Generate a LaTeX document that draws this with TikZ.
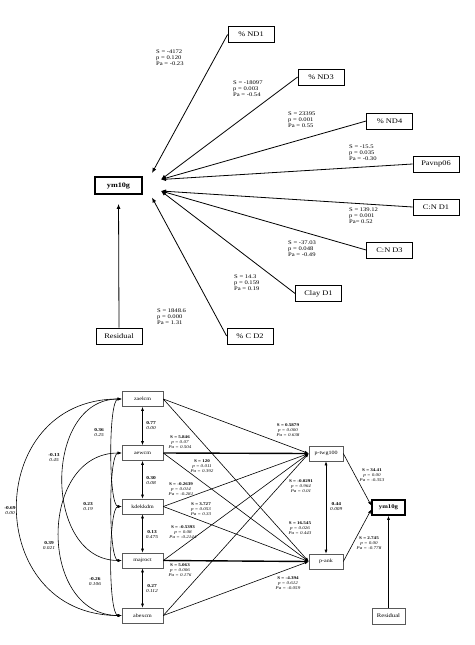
\documentclass[tikz,border=0pt]{standalone}
\usepackage{fontspec}
\setmainfont[FakeStretch=1.2]{Liberation Serif}
\usetikzlibrary{arrows.meta}

\newcommand{\pathtxt}[3]{\textbf{S = #1}\\\textit{p = #2}\\\textit{Pa = #3}}
\newcommand{\cortxt}[2]{\textbf{#1}\\\textit{#2}}

\tikzset{
  varbox/.style={draw, line width=0.8pt, minimum width=46pt, minimum height=16pt,
    inner sep=0pt, font=\fontsize{7}{7}\selectfont},
  respbox/.style={varbox, line width=1.8pt, minimum width=47pt, minimum height=17pt,
    font=\fontsize{6.8}{7}\selectfont\bfseries},
  stats/.style={align=left, anchor=north west, inner sep=0pt,
    font=\fontsize{5.5}{6}\selectfont},
  pathbox/.style={draw=black!65, line width=0.6pt, minimum width=41pt,
    minimum height=15pt, inner sep=0pt, font=\fontsize{5}{5}\selectfont},
  coef/.style={align=center, inner sep=0pt, font=\fontsize{4.5}{5}\selectfont},
  pstat/.style={align=center, inner sep=0pt, font=\fontsize{4.2}{5}\selectfont},
  toarr/.style={line width=0.8pt, -{Latex[length=5pt,width=4pt]}},
  patharr/.style={line width=0.6pt, -{Latex[length=4pt,width=3pt]}},
  corr/.style={line width=0.6pt, {Latex[length=4pt,width=3pt]}-{Latex[length=4pt,width=3pt]}}
}

\begin{document}
\begin{tikzpicture}[x=1pt,y=-1pt]
\useasboundingbox (0,0) rectangle (474,645);
% ---------- upper diagram: single predictors of ym10g ----------
\node[respbox] (ym) at (118.5,185.5) {ym10g};
\node[varbox] (nd1) at (251,34.5) {\% ND1};
\node[varbox] (nd3) at (321,77) {\% ND3};
\node[varbox] (nd4) at (389.5,121) {\% ND4};
\node[varbox] (pav) at (436,164) {Pavnp06};
\node[varbox] (cn1) at (436,207) {C:N D1};
\node[varbox] (cn3) at (389.5,250) {C:N D3};
\node[varbox] (clay) at (318.5,293.5) {Clay D1};
\node[varbox] (cd2) at (250,336) {\% C D2};
\node[varbox] (res) at (119,336) {Residual};
% arrow heads stop short of ym10g, four landing points
\coordinate (t1) at (152,173);
\coordinate (t2) at (161,179.5);
\coordinate (t3) at (161,191);
\coordinate (t4) at (152,197.5);
\draw[toarr] (nd1.west) -- (t1);
\foreach \v in {nd3,nd4,pav} \draw[toarr] (\v.west) -- (t2);
\foreach \v in {cn1,cn3,clay} \draw[toarr] (\v.west) -- (t3);
\draw[toarr] (cd2.west) -- (t4);
\draw[toarr, shorten >=9pt] (res.north) -- (ym.south);
% statistics
\node[stats] (s1) at (156,50) {S = -4172\\p = 0.120\\Pa = -0.23};
\node[stats] (s2) at (233,81) {S = -18097\\p = 0.003\\Pa = -0.54};
\node[stats] (s3) at (288,112) {S = 23395\\p = 0.001\\Pa = 0.55};
\node[stats] (s4) at (349,145) {S = -15.5\\p = 0.035\\Pa = -0.30};
\node[stats] (s5) at (349,208) {S = 139.12\\p = 0.001\\Pa= 0.52};
\node[stats] (s6) at (288,241) {S = -37.03\\p = 0.048\\Pa = -0.49};
\node[stats] (s7) at (234,275) {S = 14.3\\p = 0.159\\Pa = 0.19};
\node[stats] (s8) at (157,309) {S = 1848.6\\p = 0.000\\Pa = 1.31};

% ---------- lower diagram: path model ----------
\node[pathbox] (zae) at (142.5,399) {zaelcm};
\node[pathbox] (aew) at (142.5,453) {aewcm};
\node[pathbox] (kde) at (142.5,506.5) {kdekkdm};
\node[pathbox] (maj) at (142.5,560.5) {majroct};
\node[pathbox] (abe) at (142.5,615.5) {abexcm};
\node[pathbox, minimum width=34pt] (twg) at (326,453.5) {p-twg100};
\node[pathbox, minimum width=34pt] (ank) at (326,561.5) {p-ank};
\node[pathbox, draw=black, line width=1.5pt, minimum width=33pt,
  font=\fontsize{5.6}{6}\selectfont\bfseries] (ymb) at (388.5,507.5) {ym10g};
\node[pathbox, minimum width=33pt, minimum height=16pt,
  font=\fontsize{5.5}{6}\selectfont] (resb) at (388.5,616) {Residual};
% correlations between the predictors
\foreach \a/\b in {zae/aew,aew/kde,kde/maj,maj/abe}
  \draw[corr] (\a.south) -- (\b.north);
\draw[corr] (zae.west) to[out=180,in=180,looseness=1.65] (abe.west);
\draw[corr] (zae.west) to[out=180,in=180,looseness=1.25] (maj.west);
\draw[corr] (aew.west) to[out=180,in=180,looseness=1.32] (abe.west);
\draw[corr] (zae.west) to[out=180,in=180,looseness=0.32] (kde.west);
\draw[corr] (aew.west) to[out=180,in=180,looseness=0.32] (maj.west);
\draw[corr] (kde.west) to[out=180,in=180,looseness=0.32] (abe.west);
\node[coef] (c1) at (151,426) {\cortxt{0.77}{0.00}};
\node[coef] (c2) at (151,480.5) {\cortxt{0.30}{0.08}};
\node[coef] (c3) at (152,534.5) {\cortxt{0.13}{0.475}};
\node[coef] (c4) at (152,588.5) {\cortxt{0.27}{0.112}};
\node[coef] (c5) at (10,511) {\cortxt{-0.69}{0.00}};
\node[coef] (c6) at (54,458) {\cortxt{-0.13}{0.45}};
\node[coef] (c7) at (99,433) {\cortxt{0.36}{0.25}};
\node[coef] (c8) at (49,546) {\cortxt{0.39}{0.021}};
\node[coef] (c9) at (88,507) {\cortxt{0.23}{0.19}};
\node[coef] (c10) at (95,582) {\cortxt{-0.26}{0.106}};
% direct paths to the two mediators
\foreach \src in {zae,kde,maj,abe} \draw[patharr] (\src.east) -- (twg.west);
\draw[patharr, line width=1.4pt] (aew.east) -- (twg.west);
\foreach \src in {zae,aew,kde,abe} \draw[patharr] (\src.east) -- (ank.west);
\draw[patharr, line width=1.4pt] (maj.east) -- (ank.west);
\node[pstat] (p1) at (288,430) {\pathtxt{0.5879}{0.000}{0.638}};
\node[pstat] (p2) at (180,442) {\pathtxt{5.846}{0.07}{0.504}};
\node[pstat] (p3) at (202,466.5) {\pathtxt{120}{0.011}{0.392}};
\node[pstat] (p4) at (181,489.5) {\pathtxt{-0.2639}{0.014}{-0.281}};
\node[pstat] (p5) at (201,509) {\pathtxt{3.727}{0.053}{0.33}};
\node[pstat] (p6) at (183,532) {\pathtxt{-0.5393}{0.08}{-0.2144}};
\node[pstat] (p7) at (180,570) {\pathtxt{5.063}{0.006}{0.176}};
\node[pstat] (p8) at (301,486) {\pathtxt{-0.0291}{0.964}{0.01}};
\node[pstat] (p9) at (300,528.5) {\pathtxt{16.545}{0.026}{0.443}};
\node[pstat] (p10) at (288,583.5) {\pathtxt{-4.394}{0.612}{-0.059}};
% mediators to ym10g
\draw[corr] (twg.south) -- (ank.north);
\node[coef, anchor=west] (c11) at (330,507) {\cortxt{0.44}{0.009}};
\draw[patharr] (twg.east) -- ([yshift=2pt]ymb.west);
\draw[patharr] (ank.east) -- ([yshift=-2pt]ymb.west);
\draw[patharr] (resb.north) -- (ymb.south);
\node[pstat] (p11) at (372,475) {\pathtxt{34.41}{0.00}{-0.353}};
\node[pstat] (p12) at (369,543.5) {\pathtxt{2.745}{0.00}{-0.778}};
\end{tikzpicture}
\end{document}
